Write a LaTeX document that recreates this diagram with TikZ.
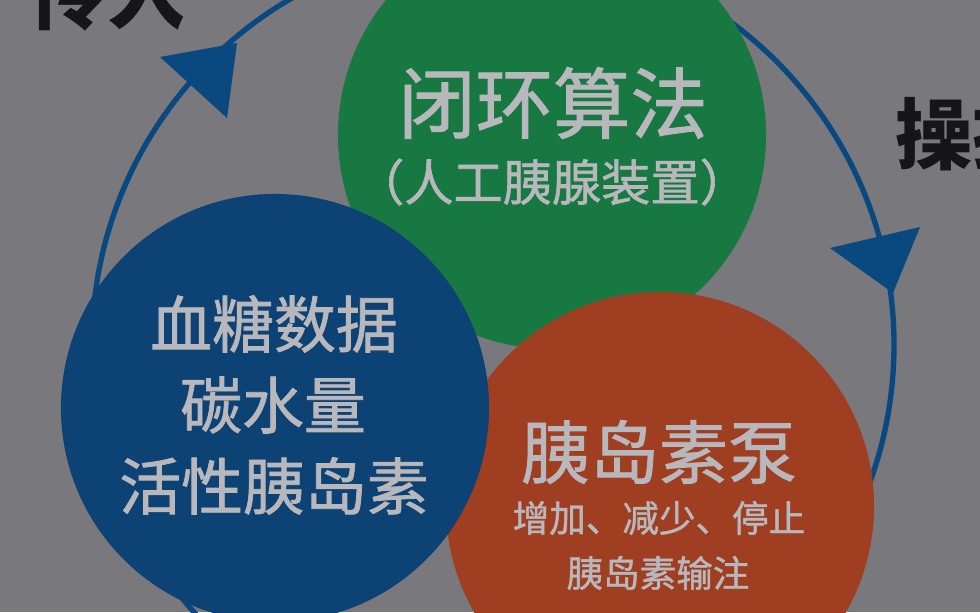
\documentclass[tikz,border=0pt]{standalone}
\usepackage{fontspec}
\newfontfamily\cjk{Noto Sans CJK SC}[FakeBold=1.2]
\newfontfamily\cjkbold{Noto Sans CJK SC}
\definecolor{bg}{RGB}{120,120,125}
\definecolor{cgreen}{RGB}{24,120,66}
\definecolor{cblue}{RGB}{13,66,116}
\definecolor{corange}{RGB}{160,62,34}
\definecolor{arcblue}{RGB}{10,72,128}
\definecolor{lighttext}{RGB}{184,184,188}
\definecolor{darktext}{RGB}{22,22,24}
\tikzset{
  bubble/.style={circle, inner sep=0pt, minimum size=10.7cm},
  intext/.style={text=lighttext, inner sep=0pt, font=\cjk},
  outtext/.style={text=darktext, inner sep=0pt, font=\cjkbold\bfseries\fontsize{55pt}{60pt}\selectfont},
  loop/.style={draw=arcblue, line width=3.8pt},
  head/.style={fill=arcblue}
}
\begin{document}
\begin{tikzpicture}[x=0.025cm,y=-0.025cm]
\useasboundingbox (0,0) rectangle (980,612);
\clip (0,0) rectangle (980,612);
\fill[bg] (0,0) rectangle (980,612);
% big loop
\coordinate (loopc) at (493,345);
\draw[loop] (loopc) circle [radius=401];
% bubbles
\node[bubble, fill=cgreen] (algo) at (552,135) {};
\node[bubble, fill=corange] (pump) at (660,506) {};
\node[bubble, fill=cblue] (data) at (275,408) {};
% arrow heads
\fill[head] (160,57) -- (237,43) -- (227,118) -- cycle;
\fill[head] (830,248) -- (920,227) -- (893,293) -- cycle;
% texts in green
\node[intext, font=\cjk\fontsize{55pt}{60pt}\selectfont] (t1) at (553,103) {闭环算法};
\node[intext, font=\cjk\fontsize{35pt}{40pt}\selectfont] (t2) at (552,182) {（人工胰腺装置）};
% texts in blue
\node[intext, font=\cjk\fontsize{44pt}{50pt}\selectfont] (b1) at (274,324) {血糖数据};
\node[intext, font=\cjk\fontsize{44pt}{50pt}\selectfont] (b2) at (273,405) {碳水量};
\node[intext, font=\cjk\fontsize{44pt}{50pt}\selectfont] (b3) at (274,486) {活性胰岛素};
% texts in orange
\node[intext, font=\cjk\fontsize{49pt}{54pt}\selectfont] (o1) at (659,452) {胰岛素泵};
\node[intext, font=\cjk\fontsize{26pt}{30pt}\selectfont] (o2) at (659,518) {增加、减少、停止};
\node[intext, font=\cjk\fontsize{26pt}{30pt}\selectfont] (o3) at (658,573) {胰岛素输注};
% outer labels
\node[outtext] (in) at (107,-6) {传入};
\node[outtext, anchor=west] (op) at (895,134) {操控};
\end{tikzpicture}
\end{document}
